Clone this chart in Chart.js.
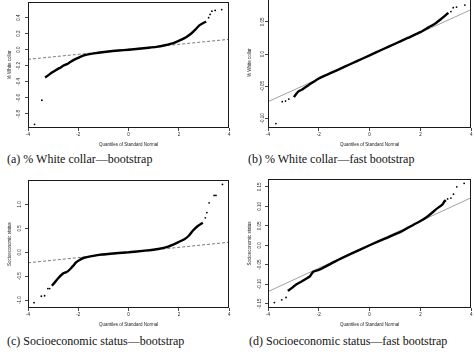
<!DOCTYPE html>
<html>
<head>
<meta charset="utf-8">
<script src="https://cdn.jsdelivr.net/npm/chart.js@4.4.1/dist/chart.umd.min.js"></script>
<style>
  html, body { margin: 0; padding: 0; background: #fff; }
  body { width: 474px; height: 363px; position: relative; overflow: hidden; }
  canvas { position: absolute; }
  .cap {
    position: absolute;
    font-family: "Liberation Serif", "Times New Roman", serif;
    font-size: 12px; line-height: 1; color: #111; white-space: nowrap;
  }
</style>
</head>
<body>
<canvas id="qqA" width="232" height="154" style="left:0;top:-3px"></canvas>
<canvas id="qqB" width="238" height="154" style="left:236px;top:-3px"></canvas>
<canvas id="qqC" width="232" height="155" style="left:0;top:176px"></canvas>
<canvas id="qqD" width="238" height="155" style="left:236px;top:176px"></canvas>

<div class="cap" style="left:7px;top:153px">(a) % White collar—bootstrap</div>
<div class="cap" style="left:248px;top:153px">(b) % White collar—fast bootstrap</div>
<div class="cap" style="left:7px;top:335px">(c) Socioeconomic status—bootstrap</div>
<div class="cap" style="left:249px;top:335px">(d) Socioeconomic status—fast bootstrap</div>

<script>
// ---- axis ticks
const xTicks = [-4, -2, 0, 2, 4];
const xTickLabels = ['-4', '-2', '0', '2', '4'];

const yTicksA = [-0.8, -0.6, -0.4, -0.2, 0, 0.2, 0.4];
const yLabelsA = ['-0.8', '-0.6', '-0.4', '-0.2', '0.0', '0.2', '0.4'];
const yTicksB = [-0.10, -0.05, 0, 0.05];
const yLabelsB = ['-0.10', '-0.05', '0.0', '0.05'];
const yTicksC = [-1.0, -0.5, 0, 0.5, 1.0];
const yLabelsC = ['-1.0', '-0.5', '0.0', '0.5', '1.0'];
const yTicksD = [-0.15, -0.10, -0.05, 0, 0.05, 0.10, 0.15];
const yLabelsD = ['-0.15', '-0.10', '-0.05', '0.0', '0.05', '0.10', '0.15'];

// ---- (a) % White collar, bootstrap
const qA_body = [-3.32, -3.2, -3.05, -2.9, -2.75, -2.6, -2.45, -2.3, -2.1, -1.9, -1.7, -1.5, -1.2, -0.8, -0.4, 0, 0.4, 0.8, 1.1, 1.4, 1.7, 1.9, 2.1, 2.3, 2.5, 2.65, 2.8, 2.95, 3.08];
const vA_body = [-0.345, -0.32, -0.285, -0.255, -0.23, -0.2, -0.18, -0.15, -0.115, -0.085, -0.065, -0.052, -0.038, -0.022, -0.01, 0, 0.012, 0.025, 0.036, 0.052, 0.075, 0.098, 0.125, 0.158, 0.205, 0.25, 0.3, 0.33, 0.35];
const qA_tail = [-3.74, -3.45, 3.18, 3.24, 3.31, 3.44, 3.70];
const vA_tail = [-0.93, -0.63, 0.40, 0.44, 0.48, 0.49, 0.50];
const qA_ref = [-4, 4];
const vA_ref = [-0.12, 0.13];

// ---- (b) % White collar, fast bootstrap
const qB_body = [-2.98, -2.89, -2.8, -2.65, -2.4, -2.2, -2.0, -1.5, -1.0, -0.5, 0, 0.5, 1.0, 1.5, 2.0, 2.3, 2.6, 2.8, 2.95, 3.1];
const vB_body = [-0.067, -0.062, -0.058, -0.055, -0.048, -0.043, -0.038, -0.029, -0.020, -0.011, -0.002, 0.007, 0.016, 0.025, 0.034, 0.041, 0.048, 0.054, 0.059, 0.064];
const qB_tail = [-3.69, -3.44, -3.31, -3.18, 3.2, 3.29, 3.42, 3.75];
const vB_tail = [-0.108, -0.074, -0.073, -0.070, 0.066, 0.072, 0.073, 0.076];
const qB_ref = [-4, 4];
const vB_ref = [-0.074, 0.069];

// ---- (c) Socioeconomic status, bootstrap
const qC_body = [-3.05, -2.95, -2.81, -2.62, -2.5, -2.42, -2.3, -2.2, -2.09, -1.95, -1.8, -1.57, -1.18, -0.52, 0, 0.65, 1.18, 1.57, 1.96, 2.23, 2.4, 2.55, 2.75, 2.95];
const vC_body = [-0.70, -0.64, -0.55, -0.45, -0.42, -0.40, -0.34, -0.28, -0.21, -0.16, -0.12, -0.09, -0.055, -0.02, 0, 0.034, 0.069, 0.117, 0.207, 0.276, 0.35, 0.45, 0.55, 0.62];
const qC_tail = [-3.76, -3.47, -3.34, -3.21, -3.14, 3.05, 3.11, 3.2, 3.40, 3.47, 3.73];
const vC_tail = [-1.055, -0.92, -0.91, -0.76, -0.76, 0.72, 0.83, 1.035, 1.19, 1.19, 1.42];
const qC_ref = [-4, 4];
const vC_ref = [-0.22, 0.21];

// ---- (d) Socioeconomic status, fast bootstrap
const qD_body = [-3.22, -3.07, -2.94, -2.68, -2.45, -2.35, -2.22, -2.0, -1.89, -1.37, -0.7, 0, 0.6, 1.24, 1.76, 2.0, 2.28, 2.45, 2.61, 2.87, 2.94, 3.0];
const vD_body = [-0.117, -0.110, -0.103, -0.093, -0.084, -0.080, -0.068, -0.063, -0.060, -0.042, -0.021, 0, 0.017, 0.035, 0.054, 0.062, 0.074, 0.083, 0.092, 0.105, 0.112, 0.116];
const qD_tail = [-3.75, -3.46, -3.29, 3.07, 3.2, 3.3, 3.43, 3.72];
const vD_tail = [-0.147, -0.140, -0.134, 0.119, 0.121, 0.131, 0.150, 0.159];
const qD_ref = [-4, 4];
const vD_ref = [-0.119, 0.122];

// ===== shared look
const FAMILY = "'Liberation Sans', Arial, sans-serif";
const SMALL = { family: FAMILY, size: 4.5 };
const INK = '#1a1a1a';

const measure = document.createElement('canvas').getContext('2d');
function widest(labels) {
  measure.font = `${SMALL.size}px ${FAMILY}`;
  return Math.max(...labels.map(l => measure.measureText(l).width));
}

function pts(qs, vs) { return qs.map((q, i) => ({ x: q, y: vs[i] })); }

// box round the plot region
const frame = {
  id: 'frame',
  afterDatasetsDraw(chart) {
    const { ctx, chartArea: a } = chart;
    ctx.save();
    ctx.strokeStyle = INK;
    ctx.lineWidth = 1;
    ctx.strokeRect(Math.round(a.left) + 0.5, Math.round(a.top) + 0.5,
                   Math.round(a.right - a.left) - 1, Math.round(a.bottom - a.top) - 1);
    ctx.restore();
  }
};

function qqChart(id, o) {
  const yW = o.yAxisWidth;
  const pad = yW - 3 - o.labelCenter - widest(o.yLabels) / 2;
  new Chart(document.getElementById(id), {
    type: 'scatter',
    data: {
      // first dataset is painted last (on top)
      datasets: [
        {
          data: pts(o.qTail, o.vTail), showLine: false,
          pointRadius: 0.9, pointBackgroundColor: '#000', pointBorderWidth: 0
        },
        {
          data: pts(o.qBody, o.vBody), showLine: true, pointRadius: 0,
          borderColor: '#000', borderWidth: 2.4, tension: 0.2
        },
        {
          data: pts(o.qRef, o.vRef), showLine: true, pointRadius: 0,
          borderColor: o.dashed ? '#6b6b6b' : '#8a8a8a',
          borderWidth: o.dashed ? 0.9 : 0.8,
          borderDash: o.dashed ? [3, 2] : []
        }
      ]
    },
    options: {
      responsive: false,
      animation: false,
      events: [],
      layout: { autoPadding: false, padding: { top: o.padTop, right: o.padRight, left: 0, bottom: 0 } },
      plugins: { legend: { display: false }, tooltip: { enabled: false } },
      scales: {
        x: {
          type: 'linear', min: -4, max: 4,
          afterBuildTicks: s => { s.ticks = xTicks.map(v => ({ value: v })); },
          afterFit: s => { s.height = 23; },
          ticks: { callback: (v, i) => xTickLabels[i], font: SMALL, color: INK, padding: 1.5, maxRotation: 0, autoSkip: false },
          grid: { drawOnChartArea: false, drawTicks: true, tickLength: 3, color: INK, lineWidth: 0.8 },
          border: { display: false },
          title: { display: true, text: 'Quantiles of Standard Normal', font: SMALL, color: INK, padding: { top: 0, bottom: 3.3 } }
        },
        y: {
          type: 'linear', min: o.yMin, max: o.yMax,
          afterBuildTicks: s => { s.ticks = o.yTicks.map(v => ({ value: v })); },
          afterFit: s => { s.width = yW; },
          ticks: {
            callback: (v, i) => o.yLabels[i], font: SMALL, color: INK,
            minRotation: 90, maxRotation: 90, crossAlign: 'center', padding: pad, autoSkip: false
          },
          grid: { drawOnChartArea: false, drawTicks: true, tickLength: 3, color: INK, lineWidth: 0.8 },
          border: { display: false },
          title: { display: true, text: o.yTitle, font: SMALL, color: INK, padding: { top: o.titleX - 2.7, bottom: 0 } }
        }
      }
    },
    plugins: [frame]
  });
}

qqChart('qqA', {
  yAxisWidth: 28, padTop: 0, padRight: 1, yMin: -0.976, yMax: 0.597,
  yTicks: yTicksA, yLabels: yLabelsA, labelCenter: 19, titleX: 10, yTitle: '% White collar',
  qBody: qA_body, vBody: vA_body, qTail: qA_tail, vTail: vA_tail, qRef: qA_ref, vRef: vA_ref, dashed: true
});
qqChart('qqB', {
  yAxisWidth: 32, padTop: 0, padRight: 0, yMin: -0.1149, yMax: 0.0885,
  yTicks: yTicksB, yLabels: yLabelsB, labelCenter: 26.5, titleX: 14, yTitle: '% White collar',
  qBody: qB_body, vBody: vB_body, qTail: qB_tail, vTail: vB_tail, qRef: qB_ref, vRef: vB_ref, dashed: false
});
qqChart('qqC', {
  yAxisWidth: 28, padTop: 3, padRight: 0, yMin: -1.166, yMax: 1.505,
  yTicks: yTicksC, yLabels: yLabelsC, labelCenter: 19.5, titleX: 10, yTitle: 'Socioeconomic status',
  qBody: qC_body, vBody: vC_body, qTail: qC_tail, vTail: vC_tail, qRef: qC_ref, vRef: vC_ref, dashed: true
});
qqChart('qqD', {
  yAxisWidth: 32, padTop: 3, padRight: 0, yMin: -0.161, yMax: 0.170,
  yTicks: yTicksD, yLabels: yLabelsD, labelCenter: 24, titleX: 14, yTitle: 'Socioeconomic status',
  qBody: qD_body, vBody: vD_body, qTail: qD_tail, vTail: vD_tail, qRef: qD_ref, vRef: vD_ref, dashed: false
});
</script>
</body>
</html>
